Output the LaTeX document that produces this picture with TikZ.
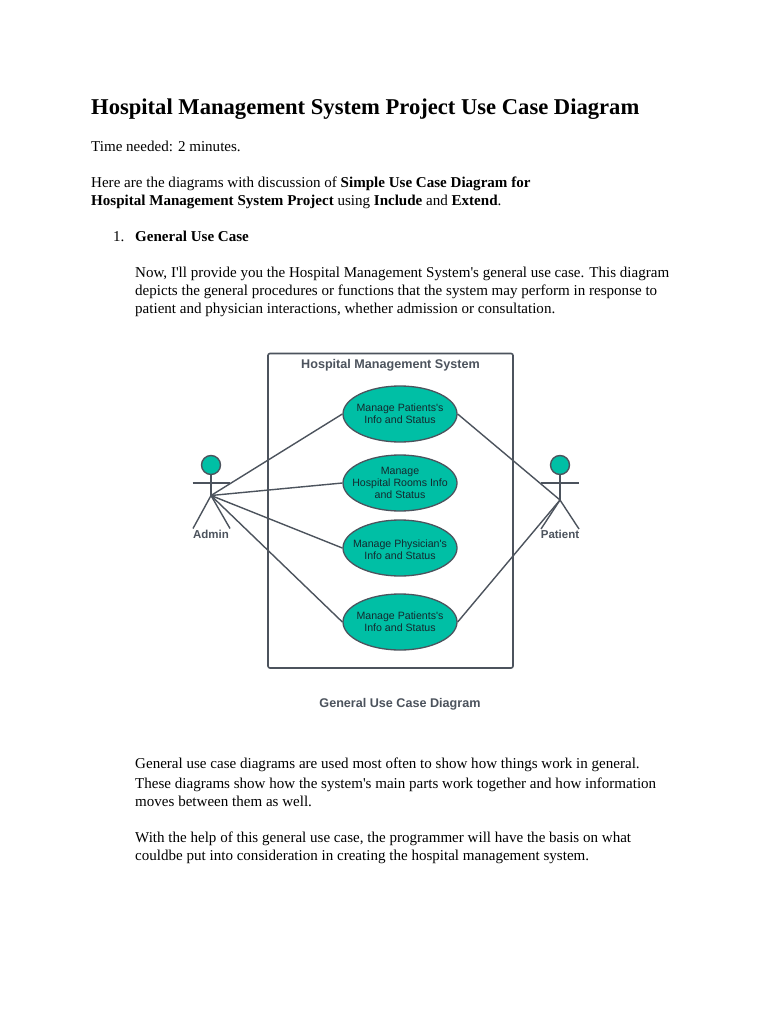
\documentclass[tikz,border=0pt]{standalone}
\usepackage{fontspec}
\setmainfont{Liberation Serif}
\newfontfamily\diagramfont{Liberation Sans}
\usetikzlibrary{shapes.geometric}

\definecolor{umlline}{HTML}{4C535D}
\definecolor{umlteal}{HTML}{00BFA5}
\definecolor{umltext}{HTML}{14292E}

\tikzset{
  bodytext/.style={anchor=base west, inner sep=0pt, font=\fontsize{15.05}{18}\selectfont, text=black},
  titletext/.style={anchor=base west, inner sep=0pt, font=\fontsize{22.6}{26}\selectfont\bfseries, text=black},
  usecase/.style={ellipse, draw=umlline, line width=1.3pt, fill=umlteal, minimum width=114pt, minimum height=56pt,
    inner sep=-12pt, align=center, text=umltext, font=\diagramfont\fontsize{10.6}{12.4}\selectfont},
  umllabel/.style={inner sep=0pt, text=umlline, font=\diagramfont\bfseries\fontsize{11.5}{14}\selectfont},
  umlheading/.style={umllabel, font=\diagramfont\bfseries\fontsize{12.6}{14}\selectfont},
  umlwire/.style={draw=umlline, line width=1.4pt},
}

\begin{document}
\begin{tikzpicture}[x=1pt, y=-1pt]
    \useasboundingbox (0,0) rectangle (768,1024);
    \fill[white] (0,0) rectangle (768,1024);

    % page text
    \node[titletext] (title) at (91,115) {Hospital Management System Project Use Case Diagram};
    \node[bodytext] (time) at (91,151.5) {Time needed: 2 minutes.};
    \node[bodytext] (introa) at (91,187.5) {Here are the diagrams with discussion of \textbf{Simple Use Case Diagram for}};
    \node[bodytext] (introb) at (91,205.5) {\textbf{Hospital Management System Project} using \textbf{Include} and \textbf{Extend}.};
    \node[bodytext] (num) at (113,241.5) {1.};
    \node[bodytext] (head) at (135,241.5) {\textbf{General Use Case}};
    \node[bodytext] (nowa) at (135,277.5) {Now, I\textquotesingle ll provide you the Hospital Management System\textquotesingle s general use case. This diagram};
    \node[bodytext] (nowb) at (135,295.5) {depicts the general procedures or functions that the system may perform in response to};
    \node[bodytext] (nowc) at (135,313.5) {patient and physician interactions, whether admission or consultation.};
    \node[bodytext] (gena) at (135,768.5) {General use case diagrams are used most often to show how things work in general.};
    \node[bodytext] (genb) at (135,788.5) {These diagrams show how the system\textquotesingle s main parts work together and how information};
    \node[bodytext] (genc) at (135,806.5) {moves between them as well.};
    \node[bodytext] (helpa) at (135,842.5) {With the help of this general use case, the programmer will have the basis on what};
    \node[bodytext] (helpb) at (135,860.5) {couldbe put into consideration in creating the hospital management system.};

    % system box
    \draw[umlwire, line width=1.6pt, rounded corners=2pt] (268,353.5) rectangle (513,668);
    \node[umlheading] (system) at (390.5,365) {Hospital Management System};
    \node[umlheading] (caption) at (400,704) {General Use Case Diagram};

    % use cases
    \node[usecase] (patientsa) at (400,414) {Manage Patients\textquotesingle s\\Info and Status};
    \node[usecase] (rooms) at (400,483) {Manage\\Hospital Rooms Info\\and Status};
    \node[usecase, text height=24pt] (physicians) at (400,548) {Manage Physician\textquotesingle s\\Info and Status};
    \node[usecase] (patientsb) at (400,622) {Manage Patients\textquotesingle s\\Info and Status};

    % admin
    \node[circle, umlwire, fill=umlteal, minimum size=19pt, inner sep=0pt] (adminhead) at (211,465) {};
    \coordinate (adminhip) at (211,495.5);
    \coordinate (adminarml) at (192.5,483);
    \coordinate (adminarmr) at (230,483);
    \coordinate (adminlegl) at (193,528.5);
    \coordinate (adminlegr) at (230,528.5);
    \draw[umlwire] (adminhead) -- (adminhip);
    \draw[umlwire] (adminarml) -- (adminarmr);
    \draw[umlwire] (adminhip) -- (adminlegl);
    \draw[umlwire] (adminhip) -- (adminlegr);
    \node[umllabel] (admin) at (211,534) {Admin};

    % patient
    \node[circle, umlwire, fill=umlteal, minimum size=19pt, inner sep=0pt] (patienthead) at (560,465) {};
    \coordinate (patienthip) at (560,500);
    \coordinate (patientarml) at (541,483);
    \coordinate (patientarmr) at (579,483);
    \coordinate (patientlegl) at (541,529);
    \coordinate (patientlegr) at (579,529);
    \draw[umlwire] (patienthead) -- (patienthip);
    \draw[umlwire] (patientarml) -- (patientarmr);
    \draw[umlwire] (patienthip) -- (patientlegl);
    \draw[umlwire] (patienthip) -- (patientlegr);
    \node[umllabel] (patient) at (560,534) {Patient};

    % connectors
    \draw[umlwire] (adminhip) -- (patientsa.west);
    \draw[umlwire] (adminhip) -- (rooms.west);
    \draw[umlwire] (adminhip) -- (physicians.west);
    \draw[umlwire] (adminhip) -- (patientsb.west);
    \draw[umlwire] (patienthip) -- (patientsa.east);
    \draw[umlwire] (patienthip) -- (patientsb.east);
\end{tikzpicture}
\end{document}
